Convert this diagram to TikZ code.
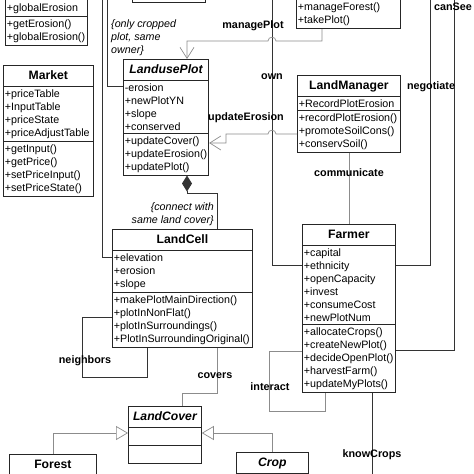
\documentclass[tikz,border=0pt]{standalone}
\usepackage{fontspec}
\setmainfont{Liberation Sans}
\usetikzlibrary{shapes.multipart,arrows.meta}

\newcommand{\ctitle}[1]{\rule[-4.5pt]{0pt}{15.5pt}{\fontsize{12.2}{14}\selectfont\bfseries #1}}
\newcommand{\cabstract}[1]{\rule[-4.5pt]{0pt}{15.5pt}{\fontsize{12.2}{14}\selectfont\bfseries\itshape #1}}

\begin{document}
\begin{tikzpicture}[
            x=1pt,y=-1pt,
            every node/.style={font=\fontsize{10.7}{13}\selectfont},
            umlclass/.style={
                draw=black!85,line width=0.8pt,fill=white,
                rectangle split,rectangle split parts=3,
                rectangle split part align={center,left,left},
                align=left,inner xsep=1.5pt,inner ysep=2.5pt,
                anchor=north west
            },
            assoc/.style={draw=black!80,line width=0.9pt},
            thinlink/.style={draw=black!45,line width=0.7pt},
            openbarb/.style={-{Straight Barb[length=11pt,width=14pt]}},
            inherit/.style={-{Triangle[length=12pt,width=14pt,fill=white]}},
            lbl/.style={font=\fontsize{10.8}{13}\selectfont\bfseries,inner sep=0pt},
            note/.style={font=\fontsize{10.7}{13}\selectfont\itshape,align=left,inner sep=0pt}
        ]
        \useasboundingbox (0,0) rectangle (474,474);
        \clip (0,0) rectangle (474,474);
    % Classes
        \node[umlclass,rectangle split parts=2,rectangle split part align={left,left},
            anchor=south west,minimum width=82] (erosionbox) at (5,46)
            {~\\+globalErosion\nodepart{second}+getErosion()\\+globalErosion()};
        \node[draw=black!85,line width=0.8pt,minimum width=73,minimum height=24,
            anchor=south west,inner sep=0pt] (topbox) at (132,3) {};
        \node[umlclass,rectangle split parts=1,rectangle split part align={left},
            anchor=south west,minimum width=104] (mgrbox) at (296,29)
            {~\\+manageForest()\\+takePlot()};
        \node[umlclass,minimum width=90] (market) at (3,65) {\ctitle{Market}
            \nodepart{second}+priceTable\\+InputTable\\+priceState\\+priceAdjustTable
            \nodepart{third}+getInput()\\+getPrice()\\+setPriceInput()\\+setPriceState()};
        \node[umlclass,minimum width=85] (landuse) at (123,59) {\cabstract{LandusePlot}
            \nodepart{second}-erosion\\+newPlotYN\\+slope\\+conserved
            \nodepart{third}+updateCover()\\+updateErosion()\\+updatePlot()};
        \node[umlclass,minimum width=103] (landmanager) at (297,75) {\ctitle{LandManager}
            \nodepart{second}+RecordPlotErosion
            \nodepart{third}+recordPlotErosion()\\+promoteSoilCons()\\+conservSoil()};
        \node[umlclass,minimum width=140] (landcell) at (112,229) {\ctitle{LandCell}
            \nodepart{second}+elevation\\+erosion\\+slope
            \nodepart{third}+makePlotMainDirection()\\+plotInNonFlat()\\+plotInSurroundings()\\+PlotInSurroundingOriginal()};
        \node[umlclass,minimum width=93] (farmer) at (302,224) {\ctitle{Farmer}
            \nodepart{second}+capital\\+ethnicity\\+openCapacity\\+invest\\+consumeCost\\+newPlotNum
            \nodepart{third}+allocateCrops()\\+createNewPlot()\\+decideOpenPlot()\\+harvestFarm()\\+updateMyPlots()};
        \node[umlclass,minimum width=73] (landcover) at (128,406) {\cabstract{LandCover}
            \nodepart{second}\rule{0pt}{12pt}\nodepart{third}\rule{0pt}{12pt}};
        \node[umlclass,minimum width=87] (forest) at (9,454) {\ctitle{Forest}
            \nodepart{second}\rule{0pt}{12pt}\nodepart{third}\rule{0pt}{12pt}};
        \node[umlclass,minimum width=72] (crop) at (236,452) {\cabstract{Crop}
            \nodepart{second}\rule{0pt}{12pt}\nodepart{third}\rule{0pt}{12pt}};
    % Connectors
        \coordinate (topA) at (102,-5);
        \coordinate (topB) at (107,-5);
        \coordinate (topC) at (272,-5);
        \coordinate (topD) at (430,-5);
        \coordinate (topE) at (454,-5);
        \coordinate (bottomA) at (372,480);
        \draw[assoc] (topA) |- ([yshift=-28pt]landcell.north west);
        \draw[assoc] (topB) |- ([yshift=-27pt]landuse.north west);
        \draw[assoc] (topC) |- ([yshift=-41pt]farmer.north west);
        \draw[assoc] (topD) |- ([yshift=-41pt]farmer.north east);
        \draw[assoc] (topE) |- ([yshift=-126pt]farmer.north east);
        \draw[thinlink,openbarb] ([xshift=26pt]mgrbox.south west) |- (276,41)
            .. controls (276,36) and (268,36) .. (268,41) -| ([xshift=64pt]landuse.north west);
        \draw[thinlink,openbarb] ([yshift=-59pt]landmanager.north west) -- (276,134)
            .. controls (276,129) and (268,129) .. (268,134) -- (226,134)
            |- ([yshift=-84pt]landuse.north east);
        \draw[thinlink] (landmanager.south) -- (farmer.north);
        \draw[thinlink] ([yshift=-127pt]farmer.north west) -- ++(-33,0)
            |- ([xshift=23pt,yshift=-19pt]farmer.south west) -- ([xshift=23pt]farmer.south west);
        \draw[assoc] ([xshift=70pt]farmer.south west) |- (bottomA);
        \draw[assoc,{Diamond[length=16pt,width=10pt]}-] ([xshift=64pt]landuse.south west)
            -- ++(0,18) -| ([xshift=105pt]landcell.north west);
        \draw[assoc] ([yshift=-88pt]landcell.north west) -- ++(-30,0)
            |- ([xshift=35pt,yshift=-30pt]landcell.south west) -- ([xshift=35pt]landcell.south west);
        \draw[thinlink] ([xshift=105pt]landcell.south west) -- ++(0,46)
            -| ([xshift=54pt]landcover.north west);
        \draw[thinlink,inherit] ([xshift=44pt]forest.north west) |- ([yshift=-27pt]landcover.north west);
        \draw[thinlink,inherit] (crop.north) |- ([yshift=-27pt]landcover.north east);
    % Labels
        \node[lbl] (lblmanage) at (253,26) {managePlot};
        \node[lbl] (lblown) at (272,77) {own};
        \node[lbl] (lblerosion) at (246,118) {updateErosion};
        \node[lbl] (lblnegotiate) at (431,87) {negotiate};
        \node[lbl] (lblcansee) at (453,7) {canSee};
        \node[lbl] (lblcommunicate) at (349,173) {communicate};
        \node[lbl] (lblinteract) at (270,387) {interact};
        \node[lbl] (lblknow) at (372,455) {knowCrops};
        \node[lbl] (lblneighbors) at (85,361) {neighbors};
        \node[lbl] (lblcovers) at (215,376) {covers};
        \node[note,anchor=north west] (notecrop) at (111,20) {\{only cropped\\plot, same\\owner\}};
        \node[note,anchor=north east,align=right] (notecell) at (214,203) {\{connect with\\same land cover\}};
    \end{tikzpicture}
\end{document}
